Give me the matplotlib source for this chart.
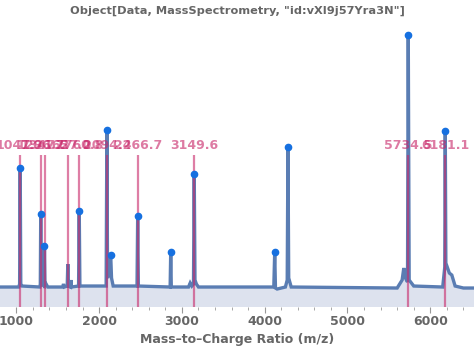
import matplotlib.pyplot as plt
from matplotlib.ticker import MultipleLocator

# spectrum profile (m/z, intensity in arbitrary units)
spec_mz = [800, 1030, 1040, 1047, 1054, 1070, 1285, 1290, 1295, 1300, 1335, 1340,
           1346, 1360, 1380, 1560, 1570, 1580, 1615, 1622, 1629, 1655, 1660, 1665,
           1752, 1760, 1768, 2085, 2094, 2102, 2120, 2130, 2140, 2150, 2170, 2458,
           2466, 2474, 2858, 2865, 2872, 3080, 3100, 3120, 3140, 3149, 3158, 3175,
           3200, 4110, 4121, 4130, 4150, 4250, 4272, 4281, 4290, 4320, 5600, 5660,
           5680, 5700, 5725, 5734, 5745, 5800, 6150, 6175, 6181, 6188, 6230, 6260,
           6300, 6400, 6530]
spec_int = [20, 20, 23, 139, 23, 21, 20, 23, 93, 23, 21, 61,
            22, 23, 20, 20, 23, 20, 21, 43, 21, 20, 27, 20,
            21, 96, 21, 21, 177, 29, 34, 40, 52, 29, 21, 21,
            91, 21, 20, 55, 20, 20, 24, 21, 23, 133, 27, 23,
            20, 20, 55, 19, 18, 20, 27, 160, 29, 20, 19, 27,
            39, 29, 25, 272, 27, 21, 20, 40, 176, 44, 34, 32,
            21, 19, 19]

# detected peaks (blue dots)
peak_mz = [1047, 1295, 1340, 1760, 2094, 2140, 2466, 2865, 3149, 4121, 4281, 5734, 6181]
peak_int = [139, 93, 61, 96, 177, 52, 91, 55, 133, 55, 160, 272, 176]

# labelled reference masses (pink lines)
ref_mz = [1047.2, 1296.7, 1347.5, 1627.0, 1760.8, 2094.2, 2466.7, 3149.6, 5734.5, 6181.1]
ref_labels = ["1047.2", "1296.7", "1347.5", "1627.0", "1760.8", "2094.2",
              "2466.7", "3149.6", "5734.5", "6181.1"]

gray = "#666666"
blue = "#5a7db3"
pink = "#c8286a"

fig = plt.figure(figsize=(4.74, 3.46), dpi=100)
ax = fig.add_axes([0, 0.1127, 1, 0.823])

ax.fill_between(spec_mz, spec_int, 0, color="#dde2ee", lw=0, zorder=1)
ax.plot(spec_mz, spec_int, color=blue, lw=2.4, zorder=2, solid_joinstyle="miter")
ax.plot(peak_mz, peak_int, "o", color="#1670e0", ms=4.5, zorder=4)

line_top = 152
for m, lab in zip(ref_mz, ref_labels):
    ax.vlines(m, 0, line_top, color=pink, alpha=0.6, lw=1.6, zorder=3)
    ax.text(m, line_top + 3, lab, ha="center", va="bottom", color=pink, alpha=0.62,
            fontsize=9, fontweight="bold", clip_on=False)

ax.set_xlim(803, 6528)
ax.set_ylim(0, 285)
for s in ["top", "right", "left", "bottom"]:
    ax.spines[s].set_visible(False)
ax.set_yticks([])
ax.xaxis.set_major_locator(MultipleLocator(1000))
ax.xaxis.set_minor_locator(MultipleLocator(200))
ax.tick_params(axis="x", which="major", length=4, color="#999999", labelcolor=gray,
               labelsize=9, pad=2)
ax.tick_params(axis="x", which="minor", length=2, color="#999999")
for t in ax.get_xticklabels():
    t.set_fontweight("bold")
ax.set_xlabel("Mass\u2013to\u2013Charge Ratio (m/z)", color=gray, fontsize=9,
              fontweight="bold", labelpad=3)
fig.text(0.5, 0.97, 'Object[Data, MassSpectrometry, "id:vXl9j57Yra3N"]',
         ha="center", va="center", color=gray, fontsize=8.2, fontweight="bold")

fig.savefig("out.png", dpi=100)
